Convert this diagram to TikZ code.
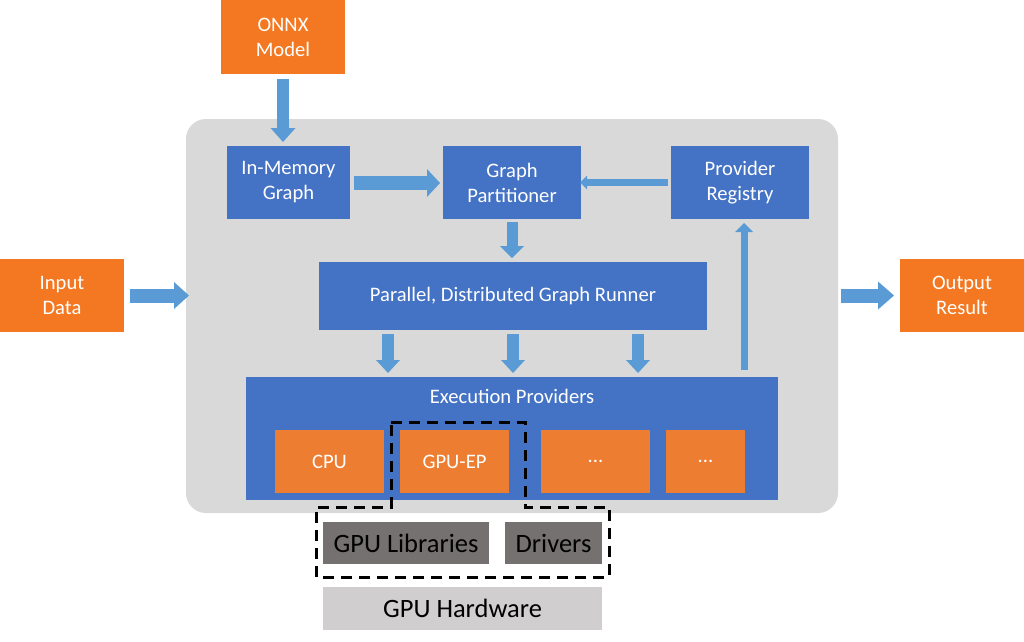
\documentclass[tikz,border=0pt]{standalone}
\usepackage{fontspec}
\setmainfont{Carlito}
\usetikzlibrary{arrows.meta,calc}
\definecolor{orangeA}{HTML}{F37821}
\definecolor{orangeB}{HTML}{ED7D31}
\definecolor{blueB}{HTML}{4472C4}
\definecolor{arrowc}{HTML}{5B9BD5}
\definecolor{panelc}{HTML}{D9D9D9}
\definecolor{darkg}{HTML}{767171}
\definecolor{lightg}{HTML}{D0CECE}
\begin{document}
\begin{tikzpicture}[x=1pt,y=-1pt,
  box/.style={anchor=north west, inner sep=0pt, outer sep=0pt, text=white,
    font=\fontsize{20.6}{25}\selectfont, align=center},
  outerbox/.style={box, fill=orangeA},
  bluebox/.style={box, fill=blueB},
  epbox/.style={box, fill=orangeB, minimum height=63pt},
  graybox/.style={box, text=black, font=\fontsize{26.5}{30}\selectfont},
  barrow/.style n args={3}{draw=arrowc, line width=#1,
    -{Triangle[width=#2,length=#3,line width=0pt]}},
  dashline/.style={draw=black, line width=3pt, dash pattern=on 11pt off 7pt}
]
\useasboundingbox (0,0) rectangle (1024,641);

% panel
\node[box, fill=panelc, rounded corners=20pt, minimum width=652pt, minimum height=394pt] (panel) at (186,119) {};

% outer orange boxes
\node[outerbox, minimum width=124pt, minimum height=74pt] (onnx) at (221,0) {ONNX\\Model};
\node[outerbox, minimum width=124pt, minimum height=73pt] (input) at (0,259) {Input\\Data};
\node[outerbox, minimum width=124pt, minimum height=73pt] (output) at (900,259) {Output\\Result};

% blue boxes
\node[bluebox, minimum width=123pt, minimum height=73pt] (inmem) at (227,146) {In-Memory\\Graph};
\node[bluebox, minimum width=138pt, minimum height=73pt] (part) at (443,146) {Graph\\Partitioner};
\node[bluebox, minimum width=138pt, minimum height=73pt] (reg) at (671,146) {Provider\\Registry};
\node[bluebox, minimum width=388pt, minimum height=68pt] (runner) at (319,262) {Parallel, Distributed Graph Runner};
\node[bluebox, minimum width=532pt, minimum height=123pt] (ep) at (246,377) {};
\node[box, anchor=center] (eptitle) at (512,396) {Execution Providers};

% execution provider boxes
\node[epbox, minimum width=109pt] (cpu) at (275,430) {CPU};
\node[epbox, minimum width=109pt] (gpuep) at (400,430) {GPU-EP};
\node[epbox, minimum width=109pt] (dotsa) at (541,430) {...};
\node[epbox, minimum width=79pt] (dotsb) at (666,430) {...};

% gray boxes
\node[graybox, fill=darkg, minimum width=166pt, minimum height=42pt] (libs) at (323,522) {GPU Libraries};
\node[graybox, fill=darkg, minimum width=97pt, minimum height=42pt] (drivers) at (505,522) {Drivers};
\node[graybox, fill=lightg, minimum width=279pt, minimum height=43pt] (hw) at (323,587) {GPU Hardware};

% arrows
\draw[barrow={12pt}{25pt}{14pt}, shorten <=5pt, shorten >=4pt] (onnx.south) -- (onnx.south |- inmem.north);
\draw[barrow={14pt}{27pt}{15pt}, shorten <=6pt, shorten >=-3pt] (input.east) -- (panel.west |- input.east);
\draw[barrow={14pt}{28pt}{13pt}, shorten <=4pt, shorten >=3pt] ($(inmem.east)+(0,0.5)$) -- ($(part.west)+(0,0.5)$);
\draw[barrow={7pt}{14pt}{7pt}, shorten <=3pt, shorten >=-1pt] (reg.west) -- (reg.west -| part.east);
\draw[barrow={11pt}{24pt}{12pt}, shorten <=3pt, shorten >=4pt] (part.south) -- (part.south |- runner.north);
\draw[barrow={12pt}{24pt}{13pt}, shorten <=4pt, shorten >=4pt] (runner.south -| 388,0) -- (ep.north -| 388,0);
\draw[barrow={12pt}{24pt}{13pt}, shorten <=4pt, shorten >=4pt] (runner.south -| 513,0) -- (ep.north -| 513,0);
\draw[barrow={12pt}{24pt}{13pt}, shorten <=4pt, shorten >=4pt] (runner.south -| 638,0) -- (ep.north -| 638,0);
\draw[barrow={7pt}{18pt}{9pt}, shorten <=7pt, shorten >=4pt] (ep.north -| 744,0) -- (reg.south -| 744,0);
\draw[barrow={14pt}{28pt}{16pt}, shorten <=3pt, shorten >=6pt] (panel.east |- output.west) -- (output.west);

% dashed outline
\draw[dashline] (391,422) -- (525,422) -- (525,507) -- (609,507) -- (609,577) -- (316,577) -- (316,507) -- (391,507) -- cycle;
\end{tikzpicture}
\end{document}
